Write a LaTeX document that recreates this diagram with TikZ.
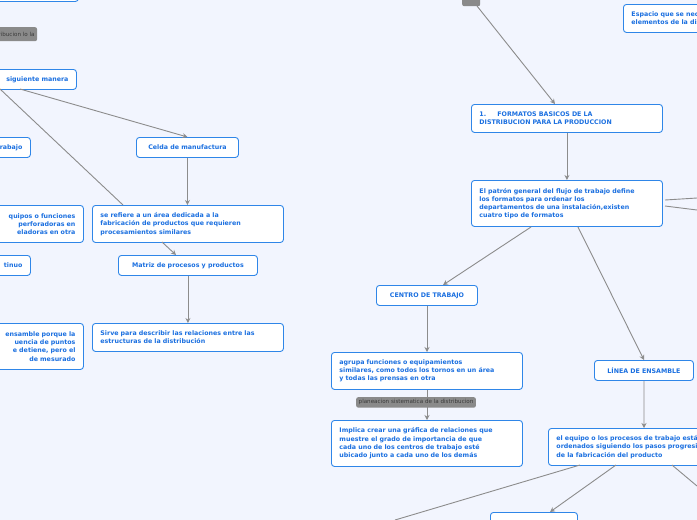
\documentclass[tikz,border=0pt]{standalone}
\usepackage{fontspec}
\setmainfont{DejaVu Sans}
\usetikzlibrary{arrows.meta}
\begin{document}
\begin{tikzpicture}[x=1pt,y=-1pt,
  box/.style={draw=bordc,line width=0.9pt,rounded corners=3pt,fill=white,anchor=north west,
    font=\fontsize{6.3}{8.2}\selectfont\bfseries,text=txtc,inner xsep=8pt,inner ysep=3pt,align=left},
  rbox/.style={box,align=right},
  cbox/.style={box,align=center},
  glab/.style={fill=gfill,rounded corners=2pt,text=gtext,font=\fontsize{5.6}{7}\selectfont,inner sep=2.5pt,anchor=north west},
  conn/.style={draw=linec,line width=0.9pt},
  arr/.style={conn,-{Stealth[length=5pt,width=5pt]}}]
\definecolor{bgc}{HTML}{F2F5FE}
\definecolor{bordc}{HTML}{2F86E8}
\definecolor{txtc}{HTML}{1A6FE0}
\definecolor{linec}{HTML}{8C8C8C}
\definecolor{gfill}{HTML}{8A8A8A}
\definecolor{gtext}{HTML}{3A3A3A}
\useasboundingbox (0,0) rectangle (697,520);
\clip (0,0) rectangle (697,520);
\fill[bgc] (0,0) rectangle (697,520);
% nodes
\node[box,minimum width=90pt,minimum height=20pt] (tl) at (-12,-19) {};
\node[glab,minimum height=14pt] (g1) at (-30,27) {de la distribucion lo la};
\node[rbox,text width=72pt,minimum height=20pt] (sig) at (-12,69) {siguiente manera};
\node[rbox,text width=26pt,minimum height=20pt] (trab) at (-12,137) {rabajo};
\node[cbox,minimum width=102pt,minimum height=20pt] (celda) at (136,137) {Celda de manufactura};
\node[rbox,text width=79pt,minimum height=37pt] (quip) at (-12,205) {quipos o funciones\\ perforadoras en\\eladoras en otra};
\node[box,text width=175pt,minimum height=37pt] (refi) at (92,205) {se refiere a un área dedicada a la\\fabricación de productos que requieren\\procesamientos similares};
\node[rbox,text width=26pt,minimum height=20pt] (tinuo) at (-12,255) {tinuo};
\node[cbox,minimum width=139pt,minimum height=20pt] (matriz) at (118,255) {Matriz de procesos y productos};
\node[rbox,text width=79pt,minimum height=46pt] (ens) at (-12,323) {ensamble porque la\\uencia de puntos\\e detiene, pero el\\ de mesurado};
\node[box,text width=175pt,minimum height=28pt] (sirve) at (92,323) {Sirve para describir las relaciones entre las\\estructuras de la distribución};
\node[box,text width=175pt,minimum height=28pt] (form) at (471,104) {1.\hspace{8pt} FORMATOS BASICOS DE LA\\DISTRIBUCION PARA LA PRODUCCION};
\node[box,text width=150pt,minimum height=28pt] (esp) at (623,4) {Espacio que se necesita para los\\elementos de la distribucion};
\node[box,text width=175pt,minimum height=46pt] (patron) at (471,180) {El patrón general del flujo de trabajo define\\los formatos para ordenar los\\departamentos de una instalación,existen\\cuatro tipo de formatos};
\node[cbox,minimum width=101pt,minimum height=20pt] (centro) at (376,285) {CENTRO DE TRABAJO};
\node[box,text width=175pt,minimum height=37pt] (agrupa) at (331,352) {agrupa funciones o equipamientos\\similares, como todos los tornos en un área\\y todas las prensas en otra};
\node[box,text width=175pt,minimum height=46pt] (impl) at (331,420) {Implica crear una gráfica de relaciones que\\muestre el grado de importancia de que\\cada uno de los centros de trabajo esté\\ubicado junto a cada uno de los demás};
\node[cbox,minimum width=99pt,minimum height=20pt] (linea) at (594,360) {LÍNEA DE ENSAMBLE};
\node[box,text width=190pt,minimum height=37pt] (equipo) at (548,428) {el equipo o los procesos de trabajo están\\ordenados siguiendo los pasos progresivos\\de la fabricación del producto};
\node[box,minimum width=87pt,minimum height=20pt] (bot) at (490,512) {};
\coordinate (r1) at (697,198);
\coordinate (r2) at (697,210);
\coordinate (b1) at (395,520);
\coordinate (b2) at (697,486);
% connectors
\draw[conn] (0,89) -- (123,205);
\draw[arr] (20,89) -- (celda.north);
\draw[arr] (celda.south) -- (celda.south |- refi.north);
\draw[arr] (162,242) -- (176,255);
\draw[arr] (matriz.south) -- (matriz.south |- sirve.north);
\draw[arr] (477,6) -- (555,104);
\node[glab,minimum width=18pt,minimum height=12pt] (g2) at (462,-6) {...};
\draw[arr] (form.south) -- (form.south |- patron.north);
\draw[conn] (665,200) -- (r1);
\draw[conn] (665,206) -- (r2);
\draw[arr] (531,227) -- (443,285);
\draw[arr] (578,227) -- (644,360);
\draw[arr] (427,306) -- (427,352);
\draw[arr] (427,390) -- (427,420);
\node[glab] (g3) at (356,397) {planeacion sistematica de la distribucion};
\draw[arr] (linea.south) -- (644,428);
\draw[conn] (580,465) -- (b1);
\draw[arr] (616,465) -- (550,512);
\draw[conn] (672,465) -- (b2);
\end{tikzpicture}
\end{document}
